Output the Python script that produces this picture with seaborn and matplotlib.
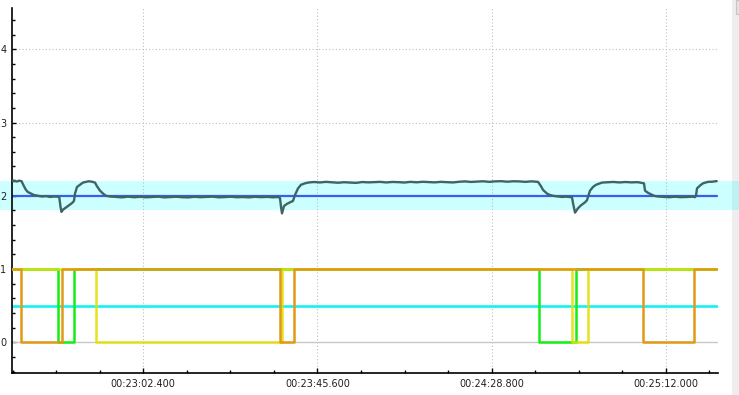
import numpy as np
import pandas as pd
import matplotlib
matplotlib.use("Agg")
import matplotlib.pyplot as plt
import matplotlib.ticker as mticker
from matplotlib.patches import Rectangle
import seaborn as sns

# ---------------- data (time in seconds since 00:00:00) ----------------
sig_t = [1349.83, 1350.32, 1351.07, 1351.56, 1352.18, 1352.80, 1353.30, 1353.80,
         1354.54, 1355.28, 1356.28, 1357.27, 1358.26, 1359.25, 1360.25, 1361.24,
         1361.56, 1361.86, 1362.11, 1362.48, 1363.22, 1363.97, 1364.71, 1365.21,
         1365.46, 1365.95, 1366.70, 1367.44, 1368.19, 1368.93, 1369.67, 1370.42,
         1370.91, 1371.66, 1372.40, 1373.15, 1374.14,
         1375.6, 1377.1, 1378.6, 1380.1, 1381.6, 1383.1, 1384.6, 1386.1, 1387.6,
         1389.1, 1390.6, 1392.1, 1393.6, 1395.1, 1396.6, 1398.1, 1399.6, 1401.1,
         1402.6, 1404.1, 1405.6, 1407.1, 1408.6, 1410.1, 1411.6, 1413.1, 1414.6,
         1415.8,
         1416.31, 1416.56, 1416.81, 1417.31, 1418.05, 1418.79, 1419.54, 1420.03,
         1420.78, 1421.52, 1422.51, 1423.26,
         1424.7, 1426.2, 1427.7, 1429.2, 1430.7, 1432.2, 1433.7, 1435.2, 1436.7,
         1438.2, 1439.7, 1441.2, 1442.7, 1444.2, 1445.7, 1447.2, 1448.7, 1450.2,
         1451.7, 1453.2, 1454.7, 1456.2, 1457.7, 1459.2, 1460.7, 1462.2, 1463.7,
         1465.2, 1466.7, 1468.2, 1469.7, 1471.2, 1472.7, 1474.2, 1475.7, 1477.2,
         1478.7,
         1480.32, 1481.06, 1481.56, 1482.55, 1483.29, 1484.04, 1485.28, 1486.27,
         1487.26, 1488.26, 1488.75, 1489.00, 1489.50, 1490.24, 1490.99, 1491.98,
         1492.47, 1493.22, 1493.96, 1494.71, 1496.19,
         1497.5, 1499.0, 1500.5, 1502.0, 1503.5, 1505.0,
         1506.61, 1506.86, 1507.61, 1508.35, 1509.09, 1510.09, 1511.33,
         1512.8, 1514.3, 1515.8, 1517.3, 1518.5,
         1519.27, 1519.51, 1519.76, 1520.51, 1521.25, 1522.49, 1523.48, 1524.65]
sig_v = [2.200, 2.208, 2.194, 2.206, 2.200, 2.130, 2.080, 2.050,
         2.030, 2.010, 2.000, 1.990, 1.996, 1.984, 1.990, 1.988,
         1.980, 1.850, 1.780, 1.810, 1.840, 1.870, 1.900, 1.930,
         2.030, 2.120, 2.150, 2.180, 2.190, 2.198, 2.192, 2.180,
         2.130, 2.070, 2.030, 2.000, 1.990,
         1.985, 1.978, 1.988, 1.980, 1.986, 1.979, 1.984, 1.988, 1.978,
         1.983, 1.987, 1.980, 1.978, 1.986, 1.981, 1.984, 1.988, 1.979,
         1.982, 1.987, 1.980, 1.983, 1.978, 1.986, 1.981, 1.985, 1.979,
         1.983,
         1.970, 1.850, 1.760, 1.860, 1.890, 1.910, 1.930, 2.010,
         2.100, 2.150, 2.170, 2.180,
         2.188, 2.182, 2.190, 2.184, 2.178, 2.185, 2.181, 2.176, 2.188,
         2.183, 2.186, 2.190, 2.182, 2.189, 2.186, 2.181, 2.190, 2.184,
         2.191, 2.187, 2.183, 2.190, 2.186, 2.182, 2.191, 2.196, 2.189,
         2.193, 2.198, 2.190, 2.197, 2.199, 2.192, 2.198, 2.196, 2.190,
         2.197,
         2.190, 2.130, 2.080, 2.030, 2.010, 2.000, 1.990, 1.984,
         1.988, 1.982, 1.980, 1.900, 1.770, 1.830, 1.870, 1.910,
         1.940, 2.070, 2.120, 2.150, 2.180,
         2.184, 2.189, 2.182, 2.188, 2.183, 2.186,
         2.170, 2.070, 2.040, 2.020, 2.000, 1.990, 1.986,
         1.980, 1.987, 1.981, 1.984, 1.988,
         1.982, 2.000, 2.100, 2.140, 2.170, 2.190, 2.192, 2.200]

green_t = [1349.83, 1361.24, 1365.21, 1480.56, 1489.74, 1524.65]
green_v = [1, 0, 1, 0, 1, 1]
yellow_t = [1349.83, 1370.67, 1416.81, 1488.75, 1492.72, 1524.65]
yellow_v = [1, 0, 1, 0, 1, 1]
orange_t = [1349.83, 1352.18, 1362.23, 1416.31, 1419.78, 1506.36, 1519.02, 1524.65]
orange_v = [1, 0, 1, 0, 1, 0, 1, 1]

target_level = 2.0
band_low, band_high = 1.8, 2.2
mid_level = 0.5
zero_level = 0.0
x_range = (1349.83, 1524.97)
y_range = (-0.419, 4.563)

# ---------------- figure ----------------
sns.set_style("white")
plt.rcParams["font.family"] = ["DejaVu Sans"]

W, H = 739, 395
fig = plt.figure(figsize=(W / 100, H / 100), dpi=100)
ax = fig.add_axes([12 / W, 22 / H, 706 / W, 365 / H])

# scrollbar at the right edge of the widget
fig.patches.append(Rectangle((732 / W, 0), 7 / W, 1, transform=fig.transFigure,
                             facecolor="#eeeeee", edgecolor="none", zorder=-5))
fig.patches.append(Rectangle((736 / W, 1 - 14 / H), 3 / W, 14 / H, transform=fig.transFigure,
                             facecolor="#e4e4e4", edgecolor="#c4c4c4", lw=0.8, zorder=-4))

# band over full widget width
ax.axhspan(band_low, band_high, xmin=-12 / 706, xmax=727 / 706, facecolor="#00ffff",
           alpha=0.2, edgecolor="none", clip_on=False, zorder=0.5)

# grid
ax.grid(True, which="major", color="#b8b8b8", linestyle=(0, (1, 2.2)), linewidth=0.75)
ax.set_axisbelow(True)

data_end = (1524.65 - x_range[0]) / (x_range[1] - x_range[0])
ax.axhline(zero_level, color="#c8c8c8", lw=1.0, zorder=1)
ax.axhline(mid_level, color="#12f2f2", lw=1.9, zorder=2, xmax=data_end)
ax.axhline(target_level, color="#3a5cf0", lw=1.6, zorder=2, xmax=data_end)

# step signals
sns.lineplot(x=green_t, y=green_v, ax=ax, color="#14ee14", lw=1.8, drawstyle="steps-post",
             estimator=None, sort=False, zorder=3)
sns.lineplot(x=yellow_t, y=yellow_v, ax=ax, color="#e2e000", lw=1.8, drawstyle="steps-post",
             estimator=None, sort=False, zorder=4, alpha=0.88)
sns.lineplot(x=orange_t, y=orange_v, ax=ax, color="#e09a14", lw=1.8, drawstyle="steps-post",
             estimator=None, sort=False, zorder=5)

# measured signal
sns.lineplot(x=sig_t, y=sig_v, ax=ax, color="#3f6464", lw=1.7, estimator=None, sort=False,
             zorder=6)

ax.set_xlim(*x_range)
ax.set_ylim(*y_range)
ax.set_xlabel("")
ax.set_ylabel("")


def fmt_time(v, pos):
    ms = int(round(v * 1000))
    h = ms // 3600000
    m = (ms // 60000) % 60
    s = (ms // 1000) % 60
    r = ms % 1000
    return f"{h:02d}:{m:02d}:{s:02d}.{r:03d}"


ax.xaxis.set_major_locator(mticker.MultipleLocator(43.2))
ax.xaxis.set_minor_locator(mticker.MultipleLocator(10.8))
ax.xaxis.set_major_formatter(mticker.FuncFormatter(fmt_time))
ax.yaxis.set_major_locator(mticker.MultipleLocator(1))
ax.yaxis.set_minor_locator(mticker.MultipleLocator(0.2))
ax.yaxis.set_major_formatter(mticker.FuncFormatter(lambda v, p: f"{int(round(v))}"))

ax.tick_params(axis="both", which="both", direction="in", colors="#000000",
               labelcolor="#202020", labelsize=7)
ax.tick_params(axis="x", which="major", length=3.5, width=1, pad=4)
ax.tick_params(axis="x", which="minor", length=2, width=1)
ax.tick_params(axis="y", which="major", length=3, width=1, pad=4)
ax.tick_params(axis="y", which="minor", length=2, width=1)
ax.tick_params(axis="x", which="both", bottom=True)
ax.tick_params(axis="y", which="both", left=True)

for side in ["top", "right"]:
    ax.spines[side].set_visible(False)
for side in ["left", "bottom"]:
    ax.spines[side].set_color("#000000")
    ax.spines[side].set_linewidth(1.2)

fig.savefig("out.png", dpi=100)
